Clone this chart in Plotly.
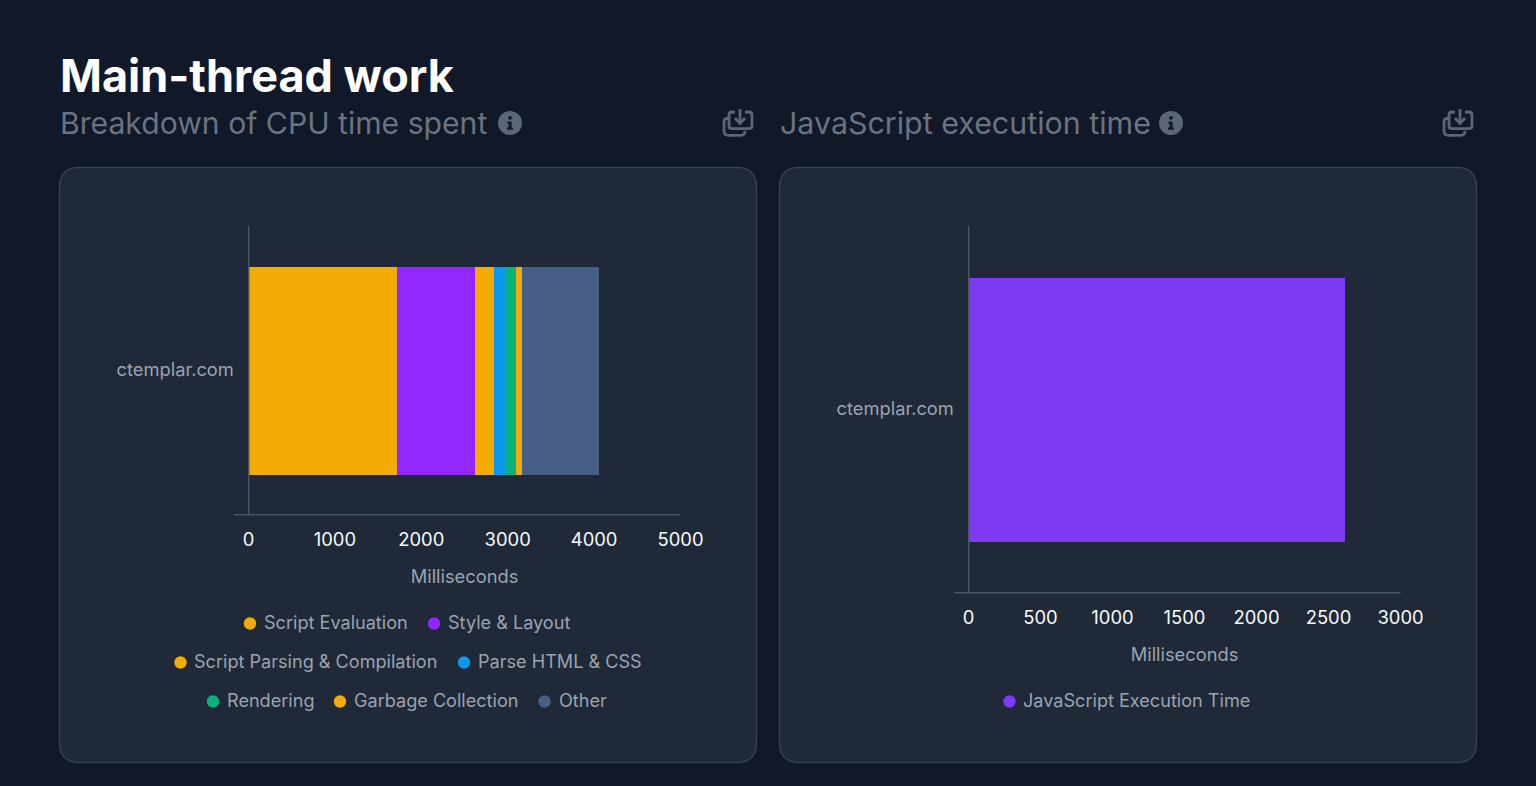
import plotly.graph_objects as go

W, H = 1536, 786
BG = "#111827"
PANEL = "#1f2937"
BORDER = "#374151"
AXIS = "#4b5563"
MUTED = "#9ca3af"
SUB = "#6b7280"
FONT = "Inter"

site = ["ctemplar.com"]
cpu_names = ["Script Evaluation", "Style & Layout", "Script Parsing & Compilation",
             "Parse HTML & CSS", "Rendering", "Garbage Collection", "Other"]
cpu_values = [1719, 903, 220, 135, 116, 73, 891]
cpu_colors = ["#f4ab05", "#9327ff", "#f4ab05", "#0b99ef", "#0ab27b", "#f4ab05", "#475f87"]
js_name = "JavaScript Execution Time"
js_values = [2614]
js_color = "#7e3af2"
x1_ticks = [0, 1000, 2000, 3000, 4000, 5000]
x2_ticks = [0, 500, 1000, 1500, 2000, 2500, 3000]
legend1_rows = [[0, 1], [2, 3], [4, 5, 6]]


def px(x):
    return x / W


def py(y):
    return 1 - y / H


def path(*parts):
    out = []
    for p in parts:
        if isinstance(p, str):
            out.append(p)
        else:
            out.append(f"{px(p[0]):.5f},{py(p[1]):.5f}")
    return " ".join(out)


def rrect(x0, y0, x1, y1, r):
    return path("M", (x0 + r, y0), "L", (x1 - r, y0), "Q", (x1, y0), (x1, y0 + r),
                "L", (x1, y1 - r), "Q", (x1, y1), (x1 - r, y1),
                "L", (x0 + r, y1), "Q", (x0, y1), (x0, y1 - r),
                "L", (x0, y0 + r), "Q", (x0, y0), (x0 + r, y0), "Z")


shapes, annotations = [], []


def text(x, y, s, size, color, anchor="left", weight=400):
    annotations.append(dict(x=px(x), y=py(y), xref="paper", yref="paper", text=s, showarrow=False,
                            xanchor=anchor, yanchor="middle", align=anchor, borderpad=0, borderwidth=0,
                            font=dict(family=FONT, size=size, color=color, weight=weight)))


def circle(cx, cy, r, color):
    shapes.append(dict(type="circle", xref="paper", yref="paper", x0=px(cx - r), x1=px(cx + r),
                       y0=py(cy + r), y1=py(cy - r), fillcolor=color, line_width=0, layer="below"))


def info(cx, cy):
    circle(cx, cy, 12, "#5d6675")
    circle(cx, cy - 5.2, 1.9, BG)
    shapes.append(dict(type="path", xref="paper", yref="paper", layer="below", fillcolor=BG, line_width=0,
                       path=path("M", (cx - 2.6, cy - 1.6), "L", (cx + 1.6, cy - 1.6), "L", (cx + 1.6, cy + 4.4),
                                 "L", (cx + 3, cy + 4.4), "L", (cx + 3, cy + 6.8), "L", (cx - 3, cy + 6.8),
                                 "L", (cx - 3, cy + 4.4), "L", (cx - 1.4, cy + 4.4), "L", (cx - 1.4, cy + .8),
                                 "L", (cx - 2.6, cy + .8), "Z")))


def download(ox):
    c = "#5d6675"
    st = dict(type="path", xref="paper", yref="paper", layer="below", line=dict(color=c, width=2.8))
    shapes.append(dict(st, path=path("M", (ox + 11, 112), "L", (ox + 8, 112), "Q", (ox + 5, 112), (ox + 5, 115),
                                     "L", (ox + 5, 125.5), "Q", (ox + 5, 128.7), (ox + 8, 128.7),
                                     "L", (ox + 25, 128.7), "Q", (ox + 28, 128.7), (ox + 28, 125.5),
                                     "L", (ox + 28, 115), "Q", (ox + 28, 112), (ox + 25, 112),
                                     "L", (ox + 21, 112))))
    shapes.append(dict(st, path=path("M", (ox + 5, 118.5), "L", (ox + 3, 118.5), "Q", (ox, 118.5), (ox, 122),
                                     "L", (ox, 131), "Q", (ox, 135.3), (ox + 4, 135.3),
                                     "L", (ox + 17, 135.3), "Q", (ox + 21, 135.3), (ox + 21, 131))))
    shapes.append(dict(st, path=path("M", (ox + 16, 109), "L", (ox + 16, 123))))
    shapes.append(dict(st, path=path("M", (ox + 11, 118), "L", (ox + 16, 123.5), "L", (ox + 21, 118))))


for left in (59.5, 779.5):
    shapes.append(dict(type="path", xref="paper", yref="paper", layer="below", fillcolor=PANEL,
                       line=dict(color=BORDER, width=1.4), path=rrect(left, 167.5, left + 697, 762.5, 20)))

text(60, 75, "Main-thread work", 45, "#ffffff", weight=700)
text(60, 123, "Breakdown of CPU time spent", 30.15, SUB)
text(780, 123, "JavaScript execution time", 30.4, SUB)
info(510, 123)
info(1171, 123)
download(724)
download(1444)

fig = go.Figure()
for name, value, color in zip(cpu_names, cpu_values, cpu_colors):
    fig.add_trace(go.Bar(y=site, x=[value], name=name, orientation="h", marker=dict(color=color, line_width=0),
                         xaxis="x", yaxis="y", showlegend=False))
fig.add_trace(go.Bar(y=site, x=js_values, name=js_name, orientation="h", marker=dict(color=js_color, line_width=0),
                     xaxis="x2", yaxis="y2", showlegend=False))

legend_font = 18.1
legend_x = {0: 250, 1: 434, 2: 180.5, 3: 464, 4: 213, 5: 340, 6: 544.5}
legend_y = [623.5, 662.5, 701.5]
for row, items in enumerate(legend1_rows):
    for i in items:
        circle(legend_x[i], legend_y[row], 6.2, cpu_colors[i])
        text(legend_x[i] + 14 - (0.7 if i == 2 else 0), legend_y[row] - 1.5, cpu_names[i], legend_font, MUTED)
circle(1009.5, 701.5, 6.2, js_color)
text(1023, 700, js_name, legend_font, MUTED)


def x_axis(domain, rng, ticks, anchor):
    return dict(domain=[px(domain[0]), px(domain[1])], range=rng, tickvals=ticks, ticktext=[str(t) for t in ticks],
                anchor=anchor, showgrid=False, zeroline=False, showline=False,
                ticks="outside", ticklen=7, tickcolor="rgba(0,0,0,0)",
                tickfont=dict(family=FONT, size=18.4, color="#f9fafb"),
                title=dict(text="Milliseconds", font=dict(family=FONT, size=18.3, color=MUTED), standoff=21))


def y_axis(top, bottom, anchor):
    return dict(domain=[py(bottom), py(top)], type="category", anchor=anchor, showgrid=False, zeroline=False,
                showline=False, ticks="outside", ticklen=10, tickcolor="rgba(0,0,0,0)",
                ticklabelshift=-1, tickfont=dict(family=FONT, size=18.3, color=MUTED))


fig.update_layout(
    width=W, height=H, autosize=False, margin=dict(l=0, r=0, t=0, b=0, autoexpand=False),
    paper_bgcolor=BG, plot_bgcolor="rgba(0,0,0,0)", barmode="stack", bargap=0.281,
    xaxis=x_axis((248.5, 680.5), [0, 5000], x1_ticks, "y"),
    yaxis=y_axis(226.5, 515.5, "x"),
    xaxis2=x_axis((968.5, 1400.5), [0, 3000], x2_ticks, "y2"),
    yaxis2=y_axis(226.5, 593.5, "x2"),
    shapes=shapes, annotations=annotations, showlegend=False,
)
for yb, x_left in ((515, 234), (593, 954)):
    # baseline, running a little left of the value axis
    fig.add_shape(type="line", xref="paper", yref="paper", x0=px(x_left), x1=px(x_left + 446.5),
                  y0=py(yb - .2), y1=py(yb - .2), line=dict(color=AXIS, width=1.5), layer="above")
    # value axis
    fig.add_shape(type="line", xref="paper", yref="paper", x0=px(x_left + 14.7), x1=px(x_left + 14.7),
                  y0=py(226), y1=py(yb), line=dict(color=AXIS, width=1.5), layer="above")

fig.write_html("out.html", post_script="document.body.style.margin='0';document.body.style.overflow='hidden';",
               config=dict(displayModeBar=False))
